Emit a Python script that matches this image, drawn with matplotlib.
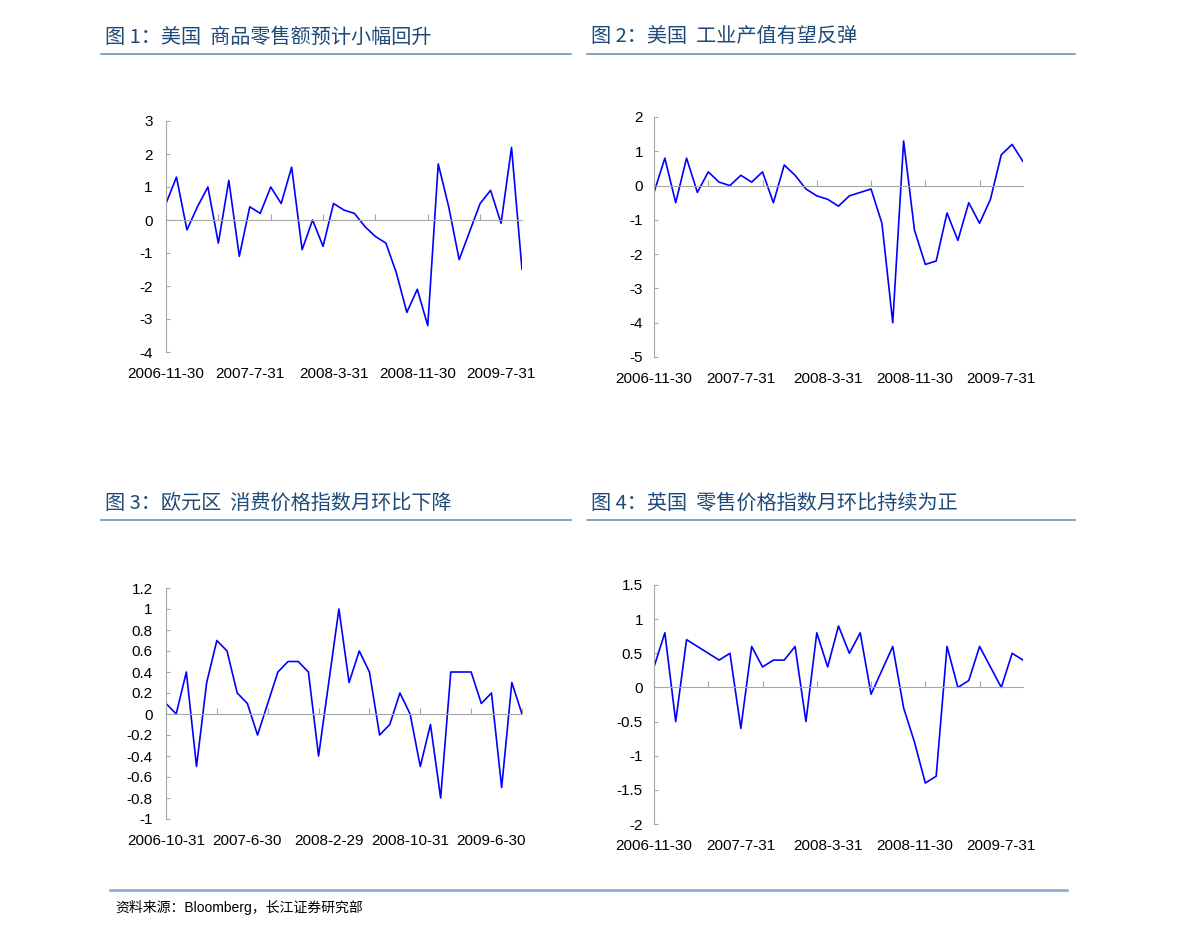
import matplotlib
matplotlib.use("Agg")
import matplotlib.pyplot as plt
import numpy as np
from matplotlib.lines import Line2D
from matplotlib.ticker import MultipleLocator, FuncFormatter

plt.rcParams['font.family'] = ['Liberation Sans', 'Noto Sans CJK SC']
plt.rcParams['axes.unicode_minus'] = False

# monthly changes (%)
us_retail = [0.5, 1.3, -0.3, 0.4, 1.0, -0.7, 1.2, -1.1, 0.4, 0.2,
             1.0, 0.5, 1.6, -0.9, 0.0, -0.8, 0.5, 0.3, 0.2, -0.2,
             -0.5, -0.7, -1.6, -2.8, -2.1, -3.2, 1.7, 0.4, -1.2, -0.35,
             0.5, 0.9, -0.1, 2.2, -1.5]
us_industry = [-0.2, 0.8, -0.5, 0.8, -0.2, 0.4, 0.1, 0.0, 0.3, 0.1,
               0.4, -0.5, 0.6, 0.3, -0.1, -0.3, -0.4, -0.6, -0.3, -0.2,
               -0.1, -1.1, -4.0, 1.3, -1.3, -2.3, -2.2, -0.8, -1.6, -0.5,
               -1.1, -0.4, 0.9, 1.2, 0.7]
euro_cpi = [0.1, 0.0, 0.4, -0.5, 0.3, 0.7, 0.6, 0.2, 0.1, -0.2,
            0.1, 0.4, 0.5, 0.5, 0.4, -0.4, 0.3, 1.0, 0.3, 0.6,
            0.4, -0.2, -0.1, 0.2, 0.0, -0.5, -0.1, -0.8, 0.4, 0.4,
            0.4, 0.1, 0.2, -0.7, 0.3, 0.0]
uk_rpi = [0.3, 0.8, -0.5, 0.7, 0.6, 0.5, 0.4, 0.5, -0.6, 0.6,
          0.3, 0.4, 0.4, 0.6, -0.5, 0.8, 0.3, 0.9, 0.5, 0.8,
          -0.1, 0.25, 0.6, -0.3, -0.8, -1.4, -1.3, 0.6, 0.0, 0.1,
          0.6, 0.3, 0.0, 0.5, 0.4]

labels_nov = ["2006-11-30", "2007-7-31", "2008-3-31", "2008-11-30", "2009-7-31"]
labels_oct = ["2006-10-31", "2007-6-30", "2008-2-29", "2008-10-31", "2009-6-30"]

titles = ["图 1：美国  商品零售额预计小幅回升",
          "图 2：美国  工业产值有望反弹",
          "图 3：欧元区  消费价格指数月环比下降",
          "图 4：英国  零售价格指数月环比持续为正"]
footer = "资料来源：Bloomberg，长江证券研究部"

W, H = 1191, 936
GREY = '#a6a6a6'
TITLE_C = '#1f4a78'
RULE_C = '#5b8ab4'


def fx(px):
    return px / W


def fy(py):
    return 1 - py / H


def draw(ax, values, ymin, ymax, ystep, xlabels, ypad):
    x = np.arange(len(values))
    ax.plot(x, values, color='#0000ff', lw=1.2)
    ax.set_xlim(0, len(values) - 1)
    ax.set_ylim(ymin, ymax)
    ax.yaxis.set_major_locator(MultipleLocator(ystep))
    ax.yaxis.set_major_formatter(FuncFormatter(lambda v, p: f"{round(v, 6) + 0.0:g}"))
    ax.spines['top'].set_visible(False)
    ax.spines['right'].set_visible(False)
    ax.spines['left'].set_color(GREY)
    ax.spines['bottom'].set_position(('data', 0))
    ax.spines['bottom'].set_color(GREY)
    ax.xaxis.set_major_locator(MultipleLocator(5))
    ax.tick_params(axis='x', direction='in', length=4, color=GREY, labelbottom=False)
    ax.tick_params(axis='y', direction='in', length=3, color=GREY, labelsize=11, pad=ypad)
    # date labels sit under the plot, the zero line carries the tick marks
    sec = ax.secondary_xaxis(0)
    sec.set_xticks(np.arange(len(xlabels)) * 8, xlabels)
    sec.tick_params(length=0, pad=11, labelsize=11)
    sec.spines['bottom'].set_visible(False)


fig = plt.figure(figsize=(W / 100, H / 100), dpi=100)

# axes boxes in pixels: left, right, top, bottom
boxes = [(166, 522, 121, 352), (654, 1023, 117, 357),
         (166, 522, 588, 819), (654, 1023, 585, 824)]
axs = [fig.add_axes([fx(l), fy(b), fx(r - l), (b - t) / H]) for l, r, t, b in boxes]

draw(axs[0], us_retail, -4, 3, 1, labels_nov, 9.5)
draw(axs[1], us_industry, -5, 2, 1, labels_nov, 8)
draw(axs[2], euro_cpi, -1, 1.2, 0.2, labels_oct, 9.5)
draw(axs[3], uk_rpi, -2, 1.5, 0.5, labels_nov, 8)

# titles and rules
title_pos = [(105, 37), (591, 37), (105, 503), (591, 503)]
for (tx, ty), t in zip(title_pos, titles):
    fig.text(fx(tx), fy(ty), t, color=TITLE_C, fontsize=14.5, va='center', ha='left',
             family=['Noto Sans CJK SC'], fontweight='medium')

for x0, x1, y in [(101, 571, 54), (587, 1075, 54), (101, 571, 520), (587, 1075, 520)]:
    fig.add_artist(Line2D([fx(x0), fx(x1)], [fy(y), fy(y)], color=RULE_C, lw=1.1))

fig.add_artist(Line2D([fx(110), fx(1067)], [fy(890), fy(890)], color='#86aac8', lw=1.8))
fig.text(fx(115), fy(907), footer, fontsize=10, va='center', ha='left')

fig.savefig("out.png", dpi=100)
